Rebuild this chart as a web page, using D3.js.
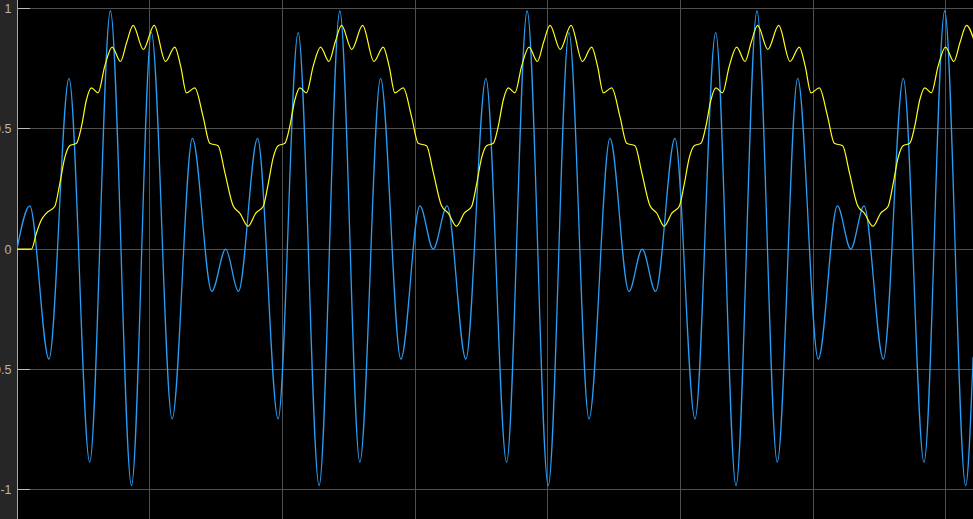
<!DOCTYPE html>
<html>
<head>
<meta charset="utf-8">
<script src="https://cdn.jsdelivr.net/npm/d3@7"></script>
<style>
body { margin: 0; background: #000; overflow: hidden; }
svg { display: block; }
</style>
</head>
<body>
<div id="scope"></div>
<script>
var width = 973,
	height = 519;

// grid / tick values
var xTicks = [1, 2, 3, 4, 5, 6, 7];
var yTicks = [1, 0.5, 0, -0.5, -1];
var yLabels = ["1", "0.5", "0", "-0.5", "-1"];

/* SIGNALS - extrema and shoulders (time, value) */

var blueT = [0.000, 0.096, 0.241, 0.392, 0.548, 0.704, 0.863, 1.013, 1.169, 1.322,
	1.468, 1.573, 1.669, 1.813, 1.968, 2.119, 2.277, 2.433, 2.584, 2.740,
	2.893, 3.036, 3.137, 3.242, 3.383, 3.534, 3.690, 3.845, 4.004, 4.160,
	4.311, 4.469, 4.612, 4.712, 4.813, 4.959, 5.110, 5.266, 5.419, 5.577,
	5.730, 5.884, 6.039, 6.183, 6.284, 6.384, 6.530, 6.680, 6.836, 6.992,
	7.150, 7.206];
var blueV = [0.00, 0.18, -0.457, 0.71, -0.886, 0.99, -0.983, 0.90, -0.706, 0.46,
	-0.176, 0.00, -0.176, 0.46, -0.706, 0.90, -0.983, 0.99, -0.886, 0.71,
	-0.457, 0.18, 0.00, 0.18, -0.457, 0.71, -0.886, 0.99, -0.983, 0.90,
	-0.706, 0.46, -0.176, 0.00, -0.176, 0.46, -0.706, 0.90, -0.983, 0.99,
	-0.886, 0.71, -0.457, 0.18, 0.00, 0.18, -0.457, 0.71, -0.886, 0.99,
	-0.983, -0.45];

var yellowT = [
	0.000, 0.109, 0.146, 0.184, 0.222, 0.284, 0.322, 0.360, 0.397, 0.448, 0.486, 0.523, 0.561, 0.611, 0.661, 0.717,
	0.780, 0.827, 0.875, 0.952, 1.034, 1.119, 1.189, 1.234, 1.277, 1.340, 1.403, 1.453, 1.516, 1.566, 1.629, 1.679,
	1.742, 1.800, 1.855, 1.893, 1.931, 1.968, 2.019, 2.056, 2.094, 2.132, 2.182, 2.232, 2.288, 2.351, 2.398, 2.446,
	2.523, 2.605, 2.690, 2.760, 2.805, 2.848, 2.911, 2.974, 3.024, 3.087, 3.137, 3.200, 3.250,
	3.313, 3.371, 3.426, 3.464, 3.502, 3.539, 3.590, 3.627, 3.665, 3.703, 3.753, 3.803, 3.859, 3.922, 3.969, 4.017,
	4.094, 4.176, 4.261, 4.331, 4.376, 4.419, 4.482, 4.545, 4.595, 4.658, 4.708, 4.771, 4.821,
	4.878, 4.936, 4.991, 5.029, 5.067, 5.104, 5.155, 5.192, 5.230, 5.268, 5.318, 5.368, 5.424, 5.487, 5.534, 5.582,
	5.659, 5.741, 5.826, 5.896, 5.941, 5.984, 6.047, 6.110, 6.160, 6.223, 6.273, 6.336, 6.386,
	6.452, 6.510, 6.565, 6.603, 6.641, 6.678, 6.729, 6.766, 6.804, 6.842, 6.892, 6.942, 6.998, 7.061, 7.108, 7.156,
	7.233];
var yellowV = [
	0.00, 0.00, 0.066, 0.122, 0.15, 0.177, 0.27, 0.38, 0.43, 0.44, 0.51, 0.62, 0.67, 0.65, 0.76, 0.84,
	0.78, 0.86, 0.93, 0.83, 0.93, 0.78, 0.84, 0.76, 0.65, 0.67, 0.55, 0.44, 0.43, 0.32, 0.18, 0.15,
	0.095, 0.15, 0.177, 0.27, 0.38, 0.43, 0.44, 0.51, 0.62, 0.67, 0.65, 0.76, 0.84, 0.78, 0.86, 0.93,
	0.83, 0.93, 0.78, 0.84, 0.76, 0.65, 0.67, 0.55, 0.44, 0.43, 0.32, 0.18, 0.15,
	0.095, 0.15, 0.177, 0.27, 0.38, 0.43, 0.44, 0.51, 0.62, 0.67, 0.65, 0.76, 0.84, 0.78, 0.86, 0.93,
	0.83, 0.93, 0.78, 0.84, 0.76, 0.65, 0.67, 0.55, 0.44, 0.43, 0.32, 0.18, 0.15,
	0.095, 0.15, 0.177, 0.27, 0.38, 0.43, 0.44, 0.51, 0.62, 0.67, 0.65, 0.76, 0.84, 0.78, 0.86, 0.93,
	0.83, 0.93, 0.78, 0.84, 0.76, 0.65, 0.67, 0.55, 0.44, 0.43, 0.32, 0.18, 0.15,
	0.095, 0.15, 0.177, 0.27, 0.38, 0.43, 0.44, 0.51, 0.62, 0.67, 0.65, 0.76, 0.84, 0.78, 0.86, 0.93,
	0.83];

/* SCOPE */

var plotLeft = 17;

var x = d3.scaleLinear()
	.domain([0, 7.2])
	.range([plotLeft, plotLeft + 7.2 * 132.68]);

var y = d3.scaleLinear()
	.domain([-1, 1])
	.range([489.6, 8.6]);

// snap 1px lines onto pixel centres
function crisp(v) { return Math.floor(v) + 0.5; }

var svg = d3.select("#scope").append("svg")
	.attr("width", width)
	.attr("height", height);

svg.append("rect")
	.attr("x", 0).attr("y", 0)
	.attr("width", plotLeft).attr("height", height)
	.attr("fill", "#262626");

svg.append("rect")
	.attr("x", plotLeft).attr("y", 0)
	.attr("width", width - plotLeft).attr("height", height)
	.attr("fill", "#000");

svg.append("clipPath")
	.attr("id", "plot-clip")
	.append("rect")
	.attr("x", plotLeft).attr("y", 0)
	.attr("width", width - plotLeft).attr("height", height);

/* Grid */

var grid = svg.append("g").attr("class", "grid");

grid.selectAll(".hgrid")
	.data(yTicks)
	.enter().append("line")
	.attr("class", "hgrid")
	.attr("x1", plotLeft).attr("x2", width)
	.attr("y1", function(d) { return crisp(y(d)); })
	.attr("y2", function(d) { return crisp(y(d)); })
	.attr("stroke", "#4f4f4f")
	.attr("stroke-width", 1);

grid.selectAll(".vgrid")
	.data(xTicks)
	.enter().append("line")
	.attr("class", "vgrid")
	.attr("y1", 0).attr("y2", height)
	.attr("x1", function(d) { return crisp(x(d)); })
	.attr("x2", function(d) { return crisp(x(d)); })
	.attr("stroke", "#4f4f4f")
	.attr("stroke-width", 1);

// short bright ticks inside the left edge
grid.selectAll(".ytick")
	.data(yTicks)
	.enter().append("line")
	.attr("class", "ytick")
	.attr("x1", plotLeft).attr("x2", plotLeft + 13)
	.attr("y1", function(d) { return crisp(y(d)); })
	.attr("y2", function(d) { return crisp(y(d)); })
	.attr("stroke", "#bdbdbd")
	.attr("stroke-width", 1);

svg.append("line")
	.attr("x1", plotLeft + 0.5).attr("x2", plotLeft + 0.5)
	.attr("y1", 0).attr("y2", height)
	.attr("stroke", "#a8a8a8")
	.attr("stroke-width", 1);

/* Axis labels */

var yAxis = svg.append("g")
	.attr("class", "axis axis--y")
	.attr("transform", "translate(" + (plotLeft + 0.5) + ",0)")
	.call(d3.axisLeft(y)
		.tickValues(yTicks)
		.tickFormat(function(d, i) { return yLabels[i]; })
		.tickSizeInner(0)
		.tickSizeOuter(0)
		.tickPadding(6));

yAxis.select(".domain").remove();
yAxis.selectAll("text")
	.attr("fill", "#b4b4b4")
	.style("font-family", "'Liberation Sans', Arial, sans-serif")
	.style("font-size", "12.5px");

/* Lines */

var line = d3.line()
	.x(function(d) { return x(d[0]); })
	.y(function(d) { return y(d[1]); })
	.curve(d3.curveMonotoneX);

var blue = blueT.map(function(t, i) { return [t, blueV[i]]; });
var yellow = yellowT.map(function(t, i) { return [t, yellowV[i]]; });

var lines = svg.append("g").attr("clip-path", "url(#plot-clip)");

lines.append("path")
	.datum(blue)
	.attr("fill", "none")
	.attr("stroke", "#2a9df4")
	.attr("stroke-width", 1.3)
	.attr("d", line);

lines.append("path")
	.datum(yellow)
	.attr("fill", "none")
	.attr("stroke", "#ffff1a")
	.attr("stroke-width", 1.2)
	.attr("d", line);
</script>
</body>
</html>
